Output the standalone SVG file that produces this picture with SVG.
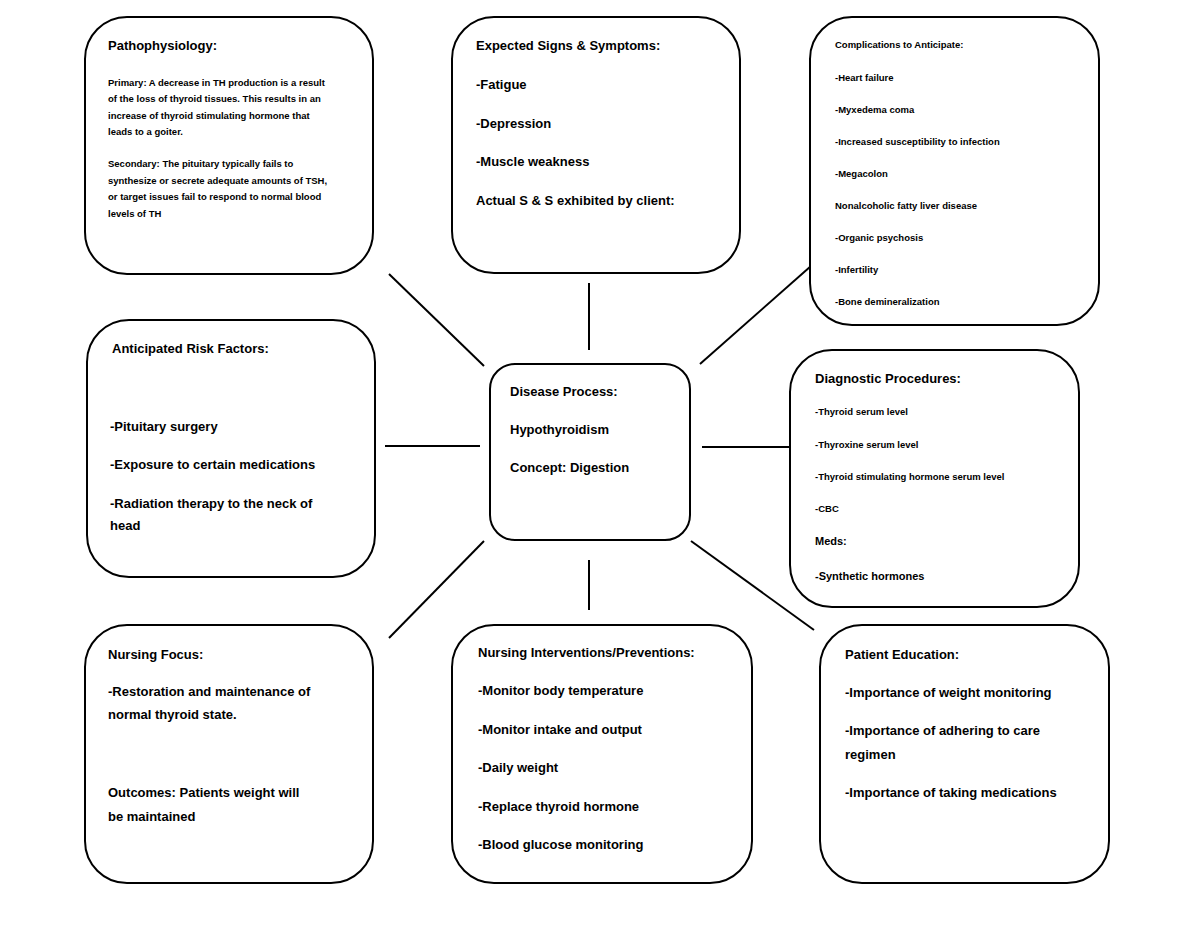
<svg xmlns="http://www.w3.org/2000/svg" width="1200" height="927" viewBox="0 0 1200 927">
<style>
.b{fill:#fff;stroke:#000;stroke-width:2}
text{font-family:"Liberation Sans",Arial,sans-serif;font-weight:bold;fill:#000}
.h{font-size:13px}
.s{font-size:9.5px}
.c line{stroke:#000;stroke-width:2}
</style>
<rect width="1200" height="927" fill="#fff"/>
<g class="c">
<line x1="389" y1="274" x2="484" y2="366"/>
<line x1="589" y1="283" x2="589" y2="350"/>
<line x1="811" y1="266" x2="700" y2="364"/>
<line x1="385" y1="446" x2="480" y2="446"/>
<line x1="702" y1="447" x2="792" y2="447"/>
<line x1="389" y1="638" x2="484" y2="541"/>
<line x1="589" y1="560" x2="589" y2="610"/>
<line x1="691" y1="541" x2="814" y2="630"/>
</g>
<g id="patho"><rect class="b" x="85" y="17" width="288" height="257" rx="42"/>
<text class="h" x="108" y="50">Pathophysiology:</text>
<text class="s"><tspan x="108" y="86">Primary: A decrease in TH production is a result</tspan><tspan x="108" y="102">of the loss of thyroid tissues. This results in an</tspan><tspan x="108" y="119">increase of thyroid stimulating hormone that</tspan><tspan x="108" y="135">leads to a goiter.</tspan><tspan x="108" y="167">Secondary: The pituitary typically fails to</tspan><tspan x="108" y="184">synthesize or secrete adequate amounts of TSH,</tspan><tspan x="108" y="200">or target issues fail to respond to normal blood</tspan><tspan x="108" y="217">levels of TH</tspan></text></g>
<g id="signs"><rect class="b" x="452" y="17" width="288" height="256" rx="42"/>
<text class="h"><tspan x="476" y="50">Expected Signs &amp; Symptoms:</tspan><tspan x="476" y="89">-Fatigue</tspan><tspan x="476" y="128">-Depression</tspan><tspan x="476" y="166">-Muscle weakness</tspan><tspan x="476" y="205">Actual S &amp; S exhibited by client:</tspan></text></g>
<g id="compl"><rect class="b" x="810" y="17" width="289" height="308" rx="42"/>
<text class="s"><tspan x="835" y="48">Complications to Anticipate:</tspan><tspan x="835" y="81">-Heart failure</tspan><tspan x="835" y="113">-Myxedema coma</tspan><tspan x="835" y="145">-Increased susceptibility to infection</tspan><tspan x="835" y="177">-Megacolon</tspan><tspan x="835" y="209">Nonalcoholic fatty liver disease</tspan><tspan x="835" y="241">-Organic psychosis</tspan><tspan x="835" y="273">-Infertility</tspan><tspan x="835" y="305">-Bone demineralization</tspan></text></g>
<g id="risk"><rect class="b" x="87" y="320" width="288" height="257" rx="42"/>
<text class="h"><tspan x="112" y="353">Anticipated Risk Factors:</tspan><tspan x="110" y="431">-Pituitary surgery</tspan><tspan x="110" y="469">-Exposure to certain medications</tspan><tspan x="110" y="508">-Radiation therapy to the neck of</tspan><tspan x="110" y="530">head</tspan></text></g>
<g id="center"><rect class="b" x="490" y="364" width="200" height="176" rx="25"/>
<text class="h"><tspan x="510" y="396">Disease Process:</tspan><tspan x="510" y="434">Hypothyroidism</tspan><tspan x="510" y="472">Concept: Digestion</tspan></text></g>
<g id="diag"><rect class="b" x="790" y="350" width="289" height="257" rx="42"/>
<text class="h" x="815" y="383">Diagnostic Procedures:</text>
<text class="s"><tspan x="815" y="415">-Thyroid serum level</tspan><tspan x="815" y="448">-Thyroxine serum level</tspan><tspan x="815" y="480">-Thyroid stimulating hormone serum level</tspan><tspan x="815" y="512">-CBC</tspan></text>
<text class="h" style="font-size:11px"><tspan x="815" y="545">Meds:</tspan><tspan x="815" y="580">-Synthetic hormones</tspan></text></g>
<g id="focus"><rect class="b" x="85" y="625" width="288" height="258" rx="42"/>
<text class="h"><tspan x="108" y="659">Nursing Focus:</tspan><tspan x="108" y="696">-Restoration and maintenance of</tspan><tspan x="108" y="719">normal thyroid state.</tspan><tspan x="108" y="797">Outcomes:   Patients weight will</tspan><tspan x="108" y="821">be maintained</tspan></text></g>
<g id="interv"><rect class="b" x="452" y="625" width="300" height="258" rx="42"/>
<text class="h"><tspan x="478" y="657">Nursing Interventions/Preventions:</tspan><tspan x="478" y="695">-Monitor body temperature</tspan><tspan x="478" y="734">-Monitor intake and output</tspan><tspan x="478" y="772">-Daily weight</tspan><tspan x="478" y="811">-Replace thyroid hormone</tspan><tspan x="478" y="849">-Blood glucose monitoring</tspan></text></g>
<g id="edu"><rect class="b" x="820" y="625" width="289" height="258" rx="42"/>
<text class="h"><tspan x="845" y="659">Patient Education:</tspan><tspan x="845" y="697">-Importance of weight monitoring</tspan><tspan x="845" y="735">-Importance of adhering to care</tspan><tspan x="845" y="759">regimen</tspan><tspan x="845" y="797">-Importance of taking medications</tspan></text></g>
</svg>
